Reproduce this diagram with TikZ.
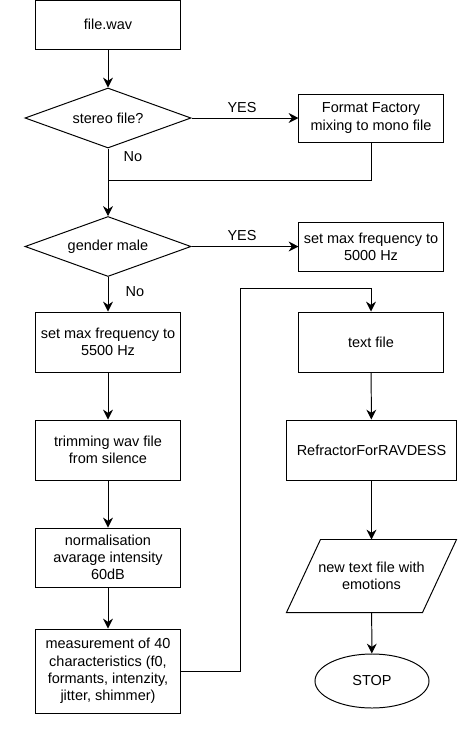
\documentclass[tikz,border=0pt]{standalone}
\usepackage{fontspec}
\setmainfont{Liberation Sans}
\usetikzlibrary{shapes.geometric, arrows.meta}

\tikzset{
	box/.style={draw, line width=0.7pt, minimum width=3.6cm, align=center, inner sep=2pt, font=\fontsize{10.3}{12.3}\selectfont},
	decision/.style={draw, diamond, aspect=2.8, line width=0.7pt, minimum width=4.15cm, minimum height=1.5cm, inner sep=0pt, align=center, font=\fontsize{10.3}{12.3}\selectfont},
	arr/.style={line width=0.7pt, -{Stealth[length=7pt, width=7pt]}},
	ln/.style={line width=0.7pt},
	lbl/.style={font=\fontsize{10.3}{12.3}\selectfont}
}

\begin{document}
\begin{tikzpicture}[x=0.025cm, y=-0.025cm]
	\useasboundingbox (0,0) rectangle (474,737);

%left column
	\node[box, minimum height=1.225cm] (wav) at (108, 24.5) {file.wav};
	\node[decision] (stereo) at (108, 118) {stereo file?};
	\node[decision] (gender) at (108, 246.5) {gender male};
	\node[box, minimum height=1.5cm] (max5500) at (108, 342) {set max frequency to\\5500 Hz};
	\node[box, minimum height=1.5cm] (trim) at (108, 450) {trimming wav file\\from silence};
	\node[box, minimum height=1.475cm] (norm) at (108, 557.5) {normalisation\\avarage intensity\\60dB};
	\node[box, minimum height=2.1cm] (meas) at (108, 671) {measurement of 40\\characteristics (f0,\\formants, intenzity,\\jitter, shimmer)};

%right column
	\node[box, minimum height=1.2cm] (format) at (371, 118) {Format Factory\\mixing to mono file};
	\node[box, minimum height=1.225cm] (max5000) at (371, 246.5) {set max frequency to\\5000 Hz};
	\node[box, minimum height=1.5cm] (text) at (371, 342) {text file};
	\node[box, minimum width=4.225cm, minimum height=1.5cm] (refr) at (371.5, 450) {RefractorForRAVDESS};
	\node[box, draw=none, minimum width=4.225cm, minimum height=1.8cm] (newtext) at (371.5, 576) {new text file with\\emotions};
	\node[draw, ellipse, line width=0.7pt, minimum width=2.85cm, minimum height=1.35cm, font=\fontsize{10.3}{12.3}\selectfont] (stop) at (372, 681) {STOP};

%parallelogram
	\draw[ln] ([xshift=0.85cm]newtext.north west) -- (newtext.north east) -- ([xshift=-0.85cm]newtext.south east) -- (newtext.south west) -- cycle;

%joins
	\coordinate (join) at (108, 180);
	\coordinate (turn) at (240, 288);

%connectors
	\draw[arr] (wav) -- (stereo);
	\draw[arr] (stereo) -- (format);
	\draw[ln] (format) |- (join);
	\draw[arr] (stereo) -- (gender);
	\draw[arr] (gender) -- (max5000);
	\draw[arr] (gender) -- (max5500);
	\foreach \a/\b in {max5500/trim, trim/norm, norm/meas, text/refr, refr/newtext, newtext/stop}{
		\draw[arr] (\a) -- (\b);
	}
	\draw[arr] (meas.east) -| (turn) -| (text.north);

%labels
	\node[lbl] (yes1) at (242, 108) {YES};
	\node[lbl] (no1) at (133, 157) {No};
	\node[lbl] (yes2) at (242, 236) {YES};
	\node[lbl] (no2) at (135, 292) {No};

\end{tikzpicture}
\end{document}
